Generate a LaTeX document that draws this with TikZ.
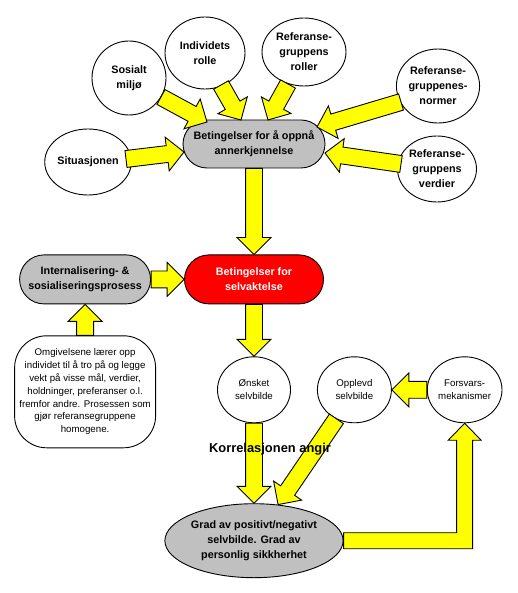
\documentclass[tikz,border=0pt]{standalone}
\usepackage{fontspec}
\setmainfont{Liberation Sans}
\usepackage{tikz}
\usetikzlibrary{positioning, calc, shapes.geometric, shapes.arrows}

\definecolor{gul}{RGB}{255,255,0}
\definecolor{graa}{RGB}{192,192,192}
\definecolor{rod}{RGB}{255,0,0}

\newcommand{\fet}{\bfseries\fontsize{10.8}{15}\selectfont}
\newcommand{\tynn}{\fontsize{9.7}{12.8}\selectfont}
\newcommand{\blokkpil}[2]{%
  \path let \p1=#1, \p2=#2,
    \n1={atan2(\y2-\y1,\x2-\x1)}, \n2={veclen(\x2-\x1,\y2-\y1)} in
    node[pil, minimum height=\n2, rotate=\n1, anchor=tail] at (\p1) {};}

\begin{document}
\begin{tikzpicture}[x=1pt, y=-1pt, line width=0.9pt,
    sirkel/.style={ellipse, draw, fill=white, inner sep=0pt, align=center, font=\fet},
    boks/.style={rectangle, rounded corners=24.5pt, draw, minimum height=49pt, align=center, font=\fet},
    pil/.style={single arrow, draw, fill=gul, inner xsep=0pt, inner ysep=8pt, outer sep=0pt,
      minimum width=33pt, single arrow head extend=8.5pt, single arrow tip angle=90}]
    \useasboundingbox (0,0) rectangle (517,593);

    \node[sirkel, minimum width=74pt, minimum height=74pt] (sosialt) at (129,78) {Sosialt\\miljø};
    \node[sirkel, minimum width=80pt, minimum height=72pt] (individ) at (205,53) {Individets\\rolle};
    \node[sirkel, minimum width=84pt, minimum height=68pt] (roller) at (304,52) {Referanse-\\gruppens\\roller};
    \node[sirkel, minimum width=82pt, minimum height=74pt] (normer) at (438,86) {Referanse-\\gruppenes-\\normer};
    \node[sirkel, minimum width=74pt, minimum height=66pt] (verdier) at (437,169) {Referanse-\\gruppens\\verdier};
    \node[sirkel, minimum width=78pt, minimum height=66pt] (situasjon) at (88,162) {Situasjonen};

    \node[boks, fill=graa, minimum width=142pt, minimum height=48pt, rounded corners=24pt] (anerk) at (254,144) {Betingelser for å oppnå\\annerkjennelse};
    \node[boks, fill=rod, text=white, minimum width=139pt] (selvakt) [below=86pt of anerk] {Betingelser for\\selvaktelse};
    \node[boks, fill=graa, minimum width=131pt] (intern) [left=33pt of selvakt] {Internalisering- \&\\sosialiseringsprosess};
    \node[rectangle, rounded corners=32pt, draw, fill=white, minimum width=141pt, minimum height=112pt,
      inner sep=0pt, align=center, font=\tynn] (omgiv) [below=31pt of intern]
      {Omgivelsene lærer opp\\individet til å tro på og legge\\vekt på visse mål, verdier,\\holdninger, preferanser o.l.\\fremfor andre. Prosessen som\\gjør referansegruppene\\homogene.};

    \node[sirkel, font=\tynn, minimum width=73pt, minimum height=66pt] (onsket) [below=52pt of selvakt] {Ønsket\\selvbilde};
    \node[sirkel, font=\tynn, minimum width=74pt, minimum height=66pt] (opplevd) [right=26pt of onsket] {Opplevd\\selvbilde};
    \node[sirkel, font=\tynn, minimum width=74pt, minimum height=66pt] (forsvar) [right=35pt of opplevd] {Forsvars-\\mekanismer};
    \node[sirkel, fill=graa, minimum width=164pt, minimum height=74pt] (grad) [below=80pt of onsket] {Grad av positivt/negativt\\selvbilde. Grad av\\personlig sikkherhet};

    \blokkpil{($(sosialt)+(32,19)$)}{($(anerk)+(-47,-22)$)}
    \blokkpil{($(individ)+(16,32)$)}{($(anerk)+(-13,-24)$)}
    \blokkpil{($(roller)+(-16,32)$)}{($(anerk)+(14,-24)$)}
    \blokkpil{($(normer)+(-37,16)$)}{($(anerk)+(63,-17)$)}
    \blokkpil{($(verdier)+(-36,-5)$)}{($(anerk)+(71,9)$)}
    \blokkpil{($(situasjon)+(38,-3)$)}{($(anerk)+(-70,8)$)}
    \blokkpil{(anerk.south)}{(selvakt.north)}
    \blokkpil{(intern.east)}{(selvakt.west)}
    \blokkpil{(omgiv.north)}{(intern.south)}
    \blokkpil{(selvakt.south)}{(onsket.north)}
    \blokkpil{(forsvar.west)}{(opplevd.east)}
    \blokkpil{(onsket.south)}{(grad.north)}
    \blokkpil{($(opplevd)+(-18,29)$)}{($(grad)+(24,-36)$)}

    \draw[fill=gul] ($(grad.east)+(0,-8)$) -- ($(forsvar.south |- grad.east)+(-8,-8)$)
      -- ($(forsvar.south)+(-8,17)$) -- ($(forsvar.south)+(-16.5,17)$) -- (forsvar.south)
      -- ($(forsvar.south)+(16.5,17)$) -- ($(forsvar.south)+(8,17)$)
      -- ($(forsvar.south |- grad.east)+(8,8)$) -- ($(grad.east)+(0,8)$) -- cycle;

    \node[font=\bfseries\fontsize{12.9}{15}\selectfont] (korr) at (270,449) {Korrelasjonen angir};
\end{tikzpicture}
\end{document}
